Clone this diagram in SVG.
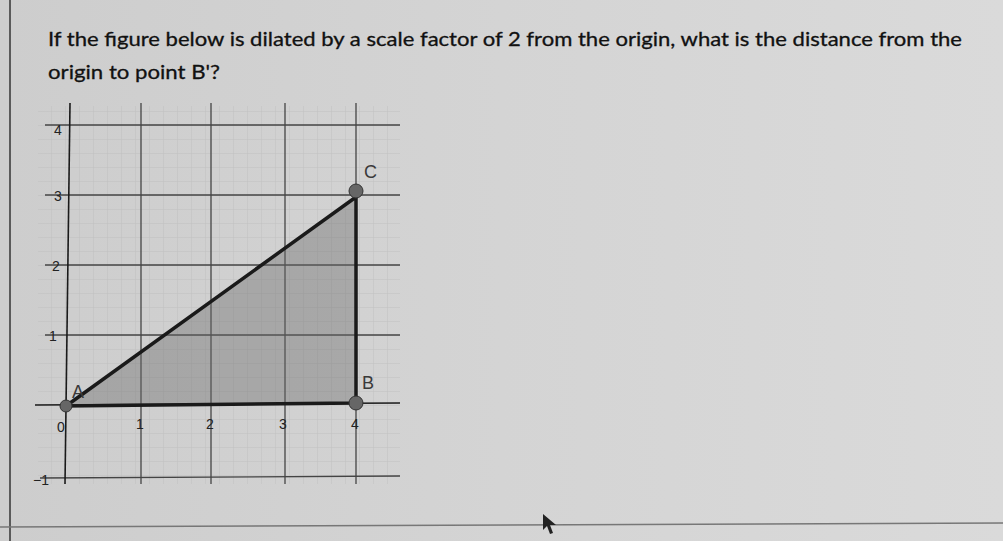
<svg xmlns="http://www.w3.org/2000/svg" width="1003" height="541" viewBox="0 0 1003 541">
<defs>
<linearGradient id="bg" x1="0" y1="0" x2="1" y2="0">
<stop offset="0" stop-color="#cdcdcd"/>
<stop offset="0.5" stop-color="#d4d4d4"/>
<stop offset="1" stop-color="#dadada"/>
</linearGradient>
<pattern id="minor" x="65" y="405" width="14" height="14" patternUnits="userSpaceOnUse">
<path d="M0 0V14M0 0H14" stroke="#b5b5b5" stroke-width="1" fill="none"/>
</pattern>
</defs>
<style>
.q{font-family:Lato,"Open Sans",sans-serif;font-size:19px;fill:#111;stroke:#111;stroke-width:0.3}
.grid{stroke:#444;stroke-width:1.3}
.axis{stroke:#1a1a1a;stroke-width:1.6}
.tick{font-family:"Liberation Sans",Arial,sans-serif;font-size:14px;fill:#222}
.lbl{font-family:"Liberation Sans",Arial,sans-serif;font-size:18px;fill:#3a3a3a}
.edge{stroke:#1a1a1a;stroke-width:3.5;fill:none;stroke-linecap:round}
.pt{fill:#666;stroke:#333;stroke-width:1}
</style>
<rect width="1003" height="541" fill="url(#bg)"/>
<line x1="10" y1="0" x2="10" y2="541" stroke="#333" stroke-width="1.5"/>
<line x1="0" y1="527" x2="1003" y2="523" stroke="#777" stroke-width="1.5"/>
<g id="question">
<text class="q" x="48" y="46" textLength="914" lengthAdjust="spacingAndGlyphs">If the figure below is dilated by a scale factor of 2 from the origin, what is the distance from the</text>
<text class="q" x="48" y="79" textLength="172" lengthAdjust="spacingAndGlyphs">origin to point B'?</text>
</g>
<g id="grid">
<rect x="38" y="106" width="362" height="378" fill="url(#minor)" opacity="0.6"/>
<g class="grid">
<line x1="141" y1="103" x2="141" y2="484"/>
<line x1="211" y1="103" x2="211" y2="484"/>
<line x1="285" y1="103" x2="285" y2="484"/>
<line x1="356" y1="103" x2="356" y2="484"/>
<line x1="45" y1="125" x2="400" y2="125"/>
<line x1="45" y1="195" x2="400" y2="195"/>
<line x1="45" y1="265" x2="400" y2="265"/>
<line x1="45" y1="335" x2="400" y2="335"/>
<line x1="40" y1="478" x2="400" y2="476"/>
</g>
<line class="axis" x1="70" y1="103" x2="65" y2="484"/>
<line class="axis" x1="35" y1="405" x2="400" y2="403"/>
<text class="tick" x="54" y="135">4</text>
<text class="tick" x="54" y="201">3</text>
<text class="tick" x="52" y="271">2</text>
<text class="tick" x="49" y="341">1</text>
<text class="tick" x="33" y="485">−1</text>
<text class="tick" x="57" y="432">0</text>
<text class="tick" x="136" y="429">1</text>
<text class="tick" x="206" y="429">2</text>
<text class="tick" x="279" y="429">3</text>
<text class="tick" x="351" y="429">4</text>
</g>
<g id="triangle">
<polygon points="66,406 356,403 356,197" fill="#6a6a6a" fill-opacity="0.4"/>
<path class="edge" d="M66 406 L356 197 L356 403 Z"/>
</g>
<g id="A">
<circle class="pt" cx="66" cy="406" r="6"/>
<text class="lbl" x="72" y="398">A</text>
</g>
<g id="B">
<circle class="pt" cx="356" cy="403" r="7"/>
<text class="lbl" x="362" y="389">B</text>
</g>
<g id="C">
<circle class="pt" cx="356" cy="191" r="7"/>
<text class="lbl" x="364" y="178">C</text>
</g>
<path d="M543 514 L543 530 L547 526 L550 534 L553 533 L550 525 L556 525 Z" fill="#222"/>
</svg>
